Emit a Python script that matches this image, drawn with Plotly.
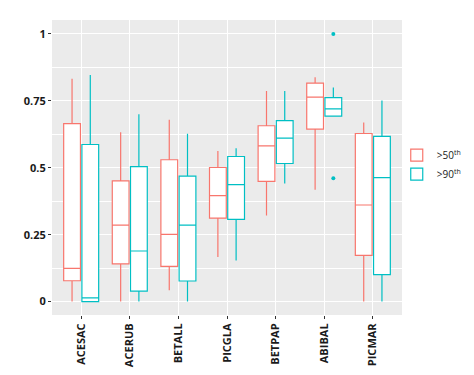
import plotly.graph_objects as go

species = ["ACESAC", "ACERUB", "BETALL", "PICGLA", "BETPAP", "ABIBAL", "PICMAR"]

# >50th percentile group
p50_low = [0.0, 0.0, 0.042, 0.167, 0.322, 0.418, 0.0]
p50_q1 = [0.078, 0.141, 0.132, 0.312, 0.449, 0.644, 0.173]
p50_med = [0.124, 0.286, 0.251, 0.396, 0.582, 0.764, 0.361]
p50_q3 = [0.665, 0.451, 0.530, 0.501, 0.657, 0.816, 0.628]
p50_high = [0.833, 0.633, 0.679, 0.563, 0.787, 0.838, 0.669]

# >90th percentile group
p90_low = [0.0, 0.0, 0.0, 0.154, 0.441, 0.693, 0.0]
p90_q1 = [0.0, 0.039, 0.077, 0.307, 0.516, 0.693, 0.101]
p90_med = [0.014, 0.189, 0.286, 0.437, 0.611, 0.720, 0.463]
p90_q3 = [0.587, 0.504, 0.469, 0.542, 0.676, 0.762, 0.617]
p90_high = [0.847, 0.700, 0.627, 0.573, 0.787, 0.800, 0.751]

# outliers (>90th, ABIBAL)
out90_species = ["ABIBAL", "ABIBAL"]
out90_vals = [1.0, 0.461]

red = "#F8766D"
teal = "#00BFC4"
pos = list(range(len(species)))
BOXGAP = 0.25
half_off = (1 - BOXGAP) / 4  # center offset of each dodged box

fig = go.Figure()
fig.add_trace(go.Box(
    x=pos, q1=p50_q1, median=p50_med, q3=p50_q3,
    lowerfence=p50_low, upperfence=p50_high,
    name="&gt;50<sup>th</sup>", fillcolor="white",
    line=dict(color=red, width=1.2), whiskerwidth=0, boxpoints=False,
))
fig.add_trace(go.Box(
    x=pos, q1=p90_q1, median=p90_med, q3=p90_q3,
    lowerfence=p90_low, upperfence=p90_high,
    name="&gt;90<sup>th</sup>", fillcolor="white",
    line=dict(color=teal, width=1.2), whiskerwidth=0, boxpoints=False,
))
fig.add_trace(go.Scatter(
    x=[species.index(s) + half_off for s in out90_species], y=out90_vals,
    mode="markers", marker=dict(color=teal, size=4), showlegend=False,
))

tickfont = dict(family="Open Sans", size=11, color="#1a1a1a", weight="bold")
fig.update_layout(
    width=474, height=375,
    margin=dict(l=44, r=80, t=12, b=68, autoexpand=False),
    paper_bgcolor="white", plot_bgcolor="#EBEBEB",
    boxmode="group", boxgap=BOXGAP, boxgroupgap=0.08,
    showlegend=True,
    legend=dict(x=0.985, y=0.51, xanchor="left", yanchor="middle",
                font=dict(family="Open Sans", size=10, color="#1a1a1a"),
                bgcolor="rgba(0,0,0,0)", tracegroupgap=0, itemwidth=30),
    xaxis=dict(range=[-0.6, 6.6], tickvals=pos, ticktext=species,
               tickangle=-90, tickfont=tickfont, showgrid=True,
               gridcolor="white", gridwidth=1.1, zeroline=False,
               ticks="outside", ticklen=3, tickcolor="#333333"),
    yaxis=dict(range=[-0.05, 1.052], tickvals=[0, 0.25, 0.5, 0.75, 1],
               ticktext=["0", "0.25", "0.5", "0.75", "1"],
               tickfont=tickfont, showgrid=True, gridcolor="white",
               gridwidth=1.1, zeroline=False, ticks="outside", ticklen=3,
               tickcolor="#333333",
               minor=dict(tickvals=[0.125, 0.375, 0.625, 0.875],
                          showgrid=True, gridcolor="white", gridwidth=0.5,
                          ticks="")),
)

fig.write_html("out.html")
